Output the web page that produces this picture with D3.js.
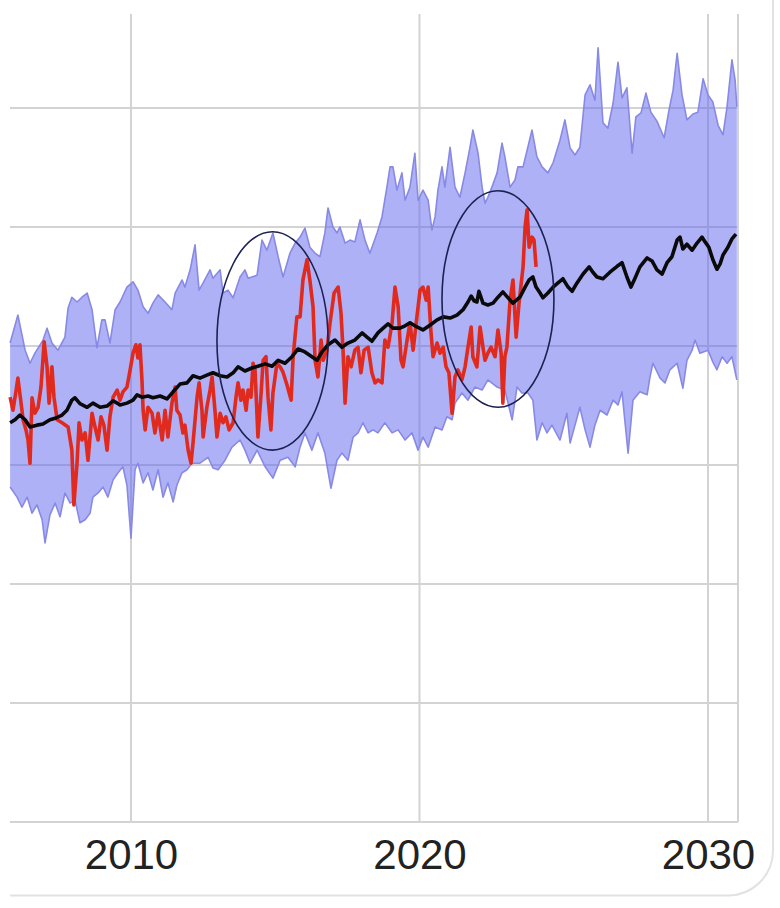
<!DOCTYPE html>
<html>
<head>
<meta charset="utf-8">
<script src="https://cdn.jsdelivr.net/npm/d3@7/dist/d3.min.js"></script>
<style>
  html, body { margin: 0; padding: 0; background: #ffffff; }
  svg { display: block; }
</style>
</head>
<body>
<svg id="chart" width="780" height="908"></svg>
<script>
// ---------- DATA (year, anomaly °C) ----------
const xTickYears = [2010, 2020, 2030];
const yGridValues = [0, 0.2, 0.4, 0.6, 0.8, 1.0, 1.2];

// model envelope – upper edge
const bandUpper = [
[2005.81,0.805],[2006.08,0.852],[2006.33,0.793],[2006.50,0.771],[2006.67,0.788],[2006.95,0.810],[2007.09,0.830],[2007.26,0.805],
[2007.47,0.793],[2007.71,0.815],[2007.82,0.864],[2007.95,0.882],[2008.13,0.874],[2008.30,0.882],[2008.48,0.889],[2008.65,0.861],
[2008.82,0.797],[2008.99,0.844],[2009.10,0.844],[2009.27,0.805],[2009.45,0.861],[2009.62,0.874],[2009.86,0.899],[2010.07,0.908],
[2010.24,0.894],[2010.42,0.866],[2010.59,0.855],[2010.76,0.872],[2010.94,0.886],[2011.18,0.874],[2011.42,0.861],[2011.53,0.889],
[2011.77,0.911],[2011.87,0.899],[2012.05,0.928],[2012.22,0.970],[2012.36,0.894],[2012.50,0.906],[2012.74,0.928],[2012.84,0.914],
[2013.09,0.928],[2013.19,0.889],[2013.36,0.894],[2013.54,0.881],[2013.78,0.916],[2013.95,0.928],[2014.06,0.914],[2014.37,0.919],
[2014.54,0.978],[2014.71,0.961],[2014.92,0.990],[2015.10,0.950],[2015.27,0.916],[2015.51,0.956],[2015.69,0.973],[2015.86,0.983],
[2016.03,0.998],[2016.20,0.966],[2016.38,0.956],[2016.55,0.950],[2016.72,0.990],[2016.83,1.032],[2017.00,1.000],[2017.14,0.990],
[2017.24,1.000],[2017.42,0.973],[2017.59,0.978],[2017.76,0.975],[2017.94,1.012],[2018.11,0.978],[2018.28,0.956],[2018.53,0.990],
[2018.70,1.017],[2018.87,1.067],[2018.98,1.101],[2019.08,1.101],[2019.22,1.062],[2019.39,1.091],[2019.50,1.045],[2019.67,1.067],
[2019.84,1.124],[2019.95,1.045],[2020.12,1.062],[2020.30,1.045],[2020.43,0.995],[2020.54,1.017],[2020.64,1.062],[2020.78,1.101],
[2020.88,1.067],[2021.06,1.134],[2021.23,1.067],[2021.40,1.050],[2021.58,1.091],[2021.75,1.134],[2021.85,1.163],[2022.03,1.124],
[2022.17,1.067],[2022.27,1.040],[2022.37,1.050],[2022.51,1.067],[2022.69,1.091],[2022.86,1.141],[2022.96,1.118],[2023.14,1.067],
[2023.31,1.079],[2023.41,1.101],[2023.59,1.101],[2023.73,1.129],[2023.90,1.163],[2024.07,1.118],[2024.25,1.101],[2024.45,1.091],
[2024.63,1.108],[2024.87,1.146],[2025.04,1.180],[2025.22,1.133],[2025.39,1.121],[2025.56,1.134],[2025.74,1.222],[2025.91,1.239],
[2026.08,1.213],[2026.19,1.301],[2026.36,1.175],[2026.53,1.166],[2026.71,1.208],[2026.88,1.277],[2027.02,1.217],[2027.19,1.234],
[2027.37,1.124],[2027.50,1.185],[2027.68,1.192],[2027.85,1.225],[2028.02,1.193],[2028.23,1.178],[2028.48,1.150],[2028.65,1.197],
[2028.79,1.230],[2028.93,1.292],[2029.10,1.222],[2029.27,1.180],[2029.48,1.190],[2029.65,1.193],[2029.83,1.249],[2030.00,1.222],
[2030.17,1.210],[2030.35,1.171],[2030.52,1.155],[2030.66,1.202],[2030.83,1.281],[2030.94,1.247],[2031.00,1.202]
];

// model envelope – lower edge
const bandLower = [
[2005.81,0.563],[2006.05,0.546],[2006.22,0.529],[2006.40,0.546],[2006.57,0.519],[2006.74,0.533],[2006.92,0.508],[2007.02,0.469],
[2007.19,0.516],[2007.37,0.536],[2007.54,0.513],[2007.71,0.553],[2007.89,0.536],[2008.06,0.541],[2008.23,0.503],[2008.41,0.508],
[2008.58,0.519],[2008.68,0.546],[2008.86,0.553],[2009.03,0.563],[2009.20,0.546],[2009.38,0.575],[2009.55,0.587],[2009.72,0.597],
[2009.86,0.566],[2010.00,0.477],[2010.14,0.592],[2010.24,0.603],[2010.42,0.570],[2010.59,0.587],[2010.76,0.558],[2010.94,0.592],
[2011.11,0.546],[2011.28,0.570],[2011.46,0.538],[2011.59,0.566],[2011.77,0.587],[2011.94,0.592],[2012.11,0.603],[2012.39,0.603],
[2012.67,0.613],[2012.84,0.595],[2013.02,0.592],[2013.26,0.608],[2013.50,0.630],[2013.78,0.642],[2013.95,0.625],[2014.13,0.603],
[2014.37,0.625],[2014.65,0.597],[2014.92,0.578],[2015.17,0.608],[2015.44,0.613],[2015.69,0.597],[2015.86,0.630],[2016.03,0.654],
[2016.27,0.625],[2016.48,0.654],[2016.72,0.620],[2016.93,0.561],[2017.14,0.608],[2017.31,0.620],[2017.52,0.608],[2017.70,0.647],
[2017.87,0.654],[2018.04,0.671],[2018.22,0.654],[2018.39,0.659],[2018.56,0.654],[2018.80,0.671],[2019.05,0.654],[2019.26,0.659],
[2019.50,0.642],[2019.74,0.654],[2019.95,0.625],[2020.12,0.647],[2020.30,0.630],[2020.54,0.664],[2020.78,0.659],[2020.95,0.681],
[2021.13,0.676],[2021.23,0.704],[2021.47,0.721],[2021.68,0.709],[2021.92,0.731],[2022.17,0.726],[2022.37,0.743],[2022.69,0.731],
[2022.96,0.726],[2023.21,0.676],[2023.38,0.731],[2023.55,0.721],[2023.76,0.721],[2023.93,0.709],[2024.07,0.642],[2024.25,0.671],
[2024.42,0.654],[2024.59,0.667],[2024.87,0.642],[2025.11,0.687],[2025.22,0.637],[2025.39,0.667],[2025.56,0.697],[2025.74,0.659],
[2025.91,0.630],[2026.08,0.667],[2026.26,0.692],[2026.50,0.684],[2026.71,0.709],[2026.88,0.701],[2027.02,0.723],[2027.23,0.620],
[2027.40,0.709],[2027.64,0.723],[2027.89,0.718],[2027.99,0.748],[2028.09,0.771],[2028.34,0.746],[2028.51,0.738],[2028.68,0.760],
[2028.93,0.771],[2029.13,0.729],[2029.27,0.776],[2029.45,0.793],[2029.55,0.810],[2029.72,0.788],[2030.00,0.793],[2030.17,0.773],
[2030.31,0.760],[2030.49,0.782],[2030.66,0.771],[2030.83,0.782],[2031.00,0.743]
];

// observed temperatures (red)
const observed = [
[2005.81,0.714],[2005.91,0.692],[2006.01,0.723],[2006.08,0.746],[2006.19,0.704],[2006.26,0.676],[2006.36,0.659],[2006.43,0.642],
[2006.50,0.603],[2006.57,0.713],[2006.67,0.687],[2006.78,0.697],[2006.88,0.731],[2006.99,0.807],[2007.09,0.765],[2007.16,0.704],
[2007.26,0.765],[2007.33,0.714],[2007.44,0.676],[2007.61,0.671],[2007.82,0.664],[2007.95,0.625],[2008.02,0.533],[2008.13,0.603],
[2008.20,0.671],[2008.30,0.642],[2008.41,0.654],[2008.51,0.608],[2008.65,0.687],[2008.72,0.671],[2008.86,0.642],[2008.96,0.681],
[2009.06,0.667],[2009.17,0.625],[2009.27,0.681],[2009.38,0.714],[2009.52,0.726],[2009.62,0.709],[2009.72,0.723],[2009.86,0.731],
[2009.97,0.760],[2010.07,0.788],[2010.17,0.802],[2010.24,0.780],[2010.31,0.802],[2010.38,0.743],[2010.42,0.692],[2010.49,0.659],
[2010.59,0.697],[2010.73,0.687],[2010.83,0.654],[2010.94,0.687],[2011.08,0.642],[2011.18,0.692],[2011.28,0.647],[2011.42,0.704],
[2011.53,0.731],[2011.59,0.692],[2011.70,0.684],[2011.80,0.654],[2011.87,0.667],[2011.98,0.625],[2012.08,0.603],[2012.15,0.637],
[2012.29,0.714],[2012.36,0.738],[2012.46,0.692],[2012.50,0.647],[2012.63,0.697],[2012.74,0.726],[2012.81,0.748],[2012.91,0.692],
[2012.98,0.647],[2013.09,0.687],[2013.19,0.671],[2013.29,0.681],[2013.40,0.659],[2013.54,0.671],[2013.64,0.714],[2013.71,0.738],
[2013.81,0.709],[2013.88,0.726],[2013.99,0.692],[2014.06,0.726],[2014.16,0.714],[2014.23,0.771],[2014.30,0.760],[2014.40,0.647],
[2014.51,0.721],[2014.58,0.776],[2014.68,0.782],[2014.75,0.714],[2014.85,0.659],[2014.92,0.721],[2015.06,0.771],[2015.17,0.765],
[2015.27,0.756],[2015.41,0.734],[2015.55,0.709],[2015.62,0.782],[2015.75,0.849],[2015.86,0.849],[2015.96,0.911],[2016.10,0.945],
[2016.20,0.911],[2016.31,0.866],[2016.38,0.776],[2016.48,0.748],[2016.59,0.810],[2016.66,0.776],[2016.79,0.793],[2016.90,0.839],
[2017.04,0.889],[2017.18,0.899],[2017.28,0.855],[2017.35,0.793],[2017.42,0.704],[2017.52,0.782],[2017.63,0.765],[2017.76,0.793],
[2017.87,0.798],[2017.97,0.755],[2018.08,0.793],[2018.22,0.798],[2018.35,0.755],[2018.46,0.738],[2018.56,0.743],[2018.70,0.738],
[2018.80,0.810],[2018.91,0.798],[2019.05,0.839],[2019.15,0.899],[2019.26,0.866],[2019.36,0.776],[2019.43,0.765],[2019.57,0.810],
[2019.67,0.839],[2019.78,0.793],[2019.91,0.849],[2020.02,0.894],[2020.12,0.899],[2020.23,0.877],[2020.30,0.899],[2020.40,0.822],
[2020.47,0.782],[2020.61,0.805],[2020.71,0.788],[2020.82,0.798],[2020.92,0.765],[2021.02,0.755],[2021.13,0.687],[2021.23,0.748],
[2021.33,0.760],[2021.47,0.743],[2021.58,0.765],[2021.68,0.798],[2021.79,0.832],[2021.85,0.782],[2021.99,0.765],[2022.10,0.832],
[2022.20,0.798],[2022.27,0.776],[2022.37,0.788],[2022.48,0.798],[2022.62,0.782],[2022.72,0.827],[2022.83,0.788],[2022.89,0.704],
[2022.96,0.782],[2023.03,0.798],[2023.14,0.877],[2023.24,0.911],[2023.35,0.815],[2023.45,0.872],[2023.59,0.933],[2023.66,1.000],
[2023.73,1.029],[2023.80,0.966],[2023.90,0.983],[2023.97,0.978],[2024.04,0.933]
];

// multi-model mean (black)
const modelMean = [
[2005.81,0.671],[2005.98,0.676],[2006.15,0.684],[2006.33,0.676],[2006.50,0.664],[2006.74,0.667],[2006.95,0.669],[2007.19,0.676],
[2007.40,0.679],[2007.61,0.684],[2007.78,0.692],[2007.95,0.709],[2008.06,0.713],[2008.23,0.703],[2008.48,0.697],[2008.68,0.704],
[2008.93,0.697],[2009.17,0.699],[2009.38,0.708],[2009.62,0.701],[2009.86,0.704],[2010.07,0.709],[2010.21,0.718],[2010.38,0.714],
[2010.59,0.716],[2010.76,0.713],[2011.01,0.716],[2011.25,0.711],[2011.46,0.723],[2011.70,0.736],[2011.94,0.738],[2012.15,0.750],
[2012.39,0.746],[2012.63,0.751],[2012.84,0.755],[2013.09,0.750],[2013.33,0.748],[2013.54,0.755],[2013.71,0.765],[2013.95,0.758],
[2014.19,0.763],[2014.40,0.766],[2014.65,0.770],[2014.89,0.766],[2015.10,0.776],[2015.34,0.771],[2015.58,0.782],[2015.79,0.795],
[2016.03,0.790],[2016.27,0.782],[2016.45,0.776],[2016.62,0.790],[2016.83,0.802],[2017.07,0.810],[2017.31,0.798],[2017.52,0.805],
[2017.76,0.810],[2018.01,0.822],[2018.18,0.815],[2018.35,0.808],[2018.56,0.822],[2018.74,0.830],[2018.91,0.837],[2019.08,0.830],
[2019.32,0.830],[2019.50,0.834],[2019.67,0.839],[2019.91,0.832],[2020.12,0.827],[2020.36,0.835],[2020.61,0.844],[2020.82,0.849],
[2021.06,0.847],[2021.30,0.852],[2021.51,0.861],[2021.68,0.874],[2021.79,0.884],[2021.89,0.876],[2021.99,0.874],[2022.06,0.892],
[2022.20,0.872],[2022.37,0.869],[2022.55,0.872],[2022.72,0.882],[2022.89,0.891],[2023.07,0.881],[2023.24,0.872],[2023.48,0.882],
[2023.66,0.899],[2023.80,0.911],[2023.93,0.916],[2024.04,0.899],[2024.18,0.889],[2024.28,0.881],[2024.45,0.889],[2024.63,0.899],
[2024.80,0.906],[2024.97,0.913],[2025.15,0.899],[2025.29,0.892],[2025.46,0.906],[2025.67,0.921],[2025.88,0.933],[2026.01,0.924],
[2026.15,0.916],[2026.36,0.913],[2026.60,0.924],[2026.85,0.934],[2027.02,0.940],[2027.19,0.916],[2027.33,0.899],[2027.47,0.914],
[2027.64,0.933],[2027.89,0.948],[2028.06,0.943],[2028.23,0.928],[2028.41,0.921],[2028.58,0.940],[2028.75,0.950],[2028.93,0.978],
[2029.03,0.983],[2029.13,0.963],[2029.27,0.971],[2029.45,0.961],[2029.62,0.973],[2029.79,0.983],[2029.90,0.975],[2030.03,0.966],
[2030.17,0.945],[2030.31,0.929],[2030.42,0.938],[2030.52,0.953],[2030.69,0.966],[2030.83,0.980],[2030.97,0.988]
];

// highlighted periods: [startYear, endYear, lowValue, highValue]
const highlights = [
  [2012.98, 2016.83, 0.625, 0.992],
  [2020.78, 2024.66, 0.697, 1.061]
];

// ---------- CHART ----------
const svg = d3.select("#chart");

const x = d3.scaleLinear().domain([2005.806, 2031.04]).range([10, 738]);
const y = d3.scaleLinear().domain([0, 1.358]).range([822, 14]);

const gridColor = "#d3d3d3";

// card border
svg.append("path")
  .attr("d", "M10,895.5 H728 A45,45 0 0 0 773,850.5 V0")
  .attr("fill", "none")
  .attr("stroke", "#e2e2e2")
  .attr("stroke-width", 2);

// horizontal gridlines
svg.append("g")
  .selectAll("line")
  .data(yGridValues)
  .join("line")
  .attr("x1", x.range()[0]).attr("x2", x.range()[1])
  .attr("y1", d => y(d)).attr("y2", d => y(d))
  .attr("stroke", gridColor)
  .attr("stroke-width", 2);

// vertical gridlines (ticks + right frame)
const vLines = xTickYears.concat([x.domain()[1]]);
svg.append("g")
  .selectAll("line")
  .data(vLines)
  .join("line")
  .attr("x1", d => x(d)).attr("x2", d => x(d))
  .attr("y1", y.range()[1]).attr("y2", y(0))
  .attr("stroke", gridColor)
  .attr("stroke-width", 2);

// x axis labels via d3.axisBottom
const axis = d3.axisBottom(x)
  .tickValues(xTickYears)
  .tickFormat(d3.format("d"))
  .tickSize(0)
  .tickPadding(0);
const gAxis = svg.append("g")
  .attr("transform", `translate(0,${y(0)})`)
  .call(axis);
gAxis.select(".domain").remove();
gAxis.selectAll("text")
  .attr("y", 47)
  .attr("dy", 0)
  .attr("font-family", "'Liberation Sans', Arial, Helvetica, sans-serif")
  .attr("font-size", 42)
  .attr("fill", "#222");

// envelope band
const line = d3.line().x(d => x(d[0])).y(d => y(d[1]));
const bandPoly = bandUpper.concat(bandLower.slice().reverse());
svg.append("path")
  .attr("d", line(bandPoly) + "Z")
  .attr("fill", "rgb(95,100,240)")
  .attr("fill-opacity", 0.5)
  .attr("stroke", "none");

[bandUpper, bandLower].forEach(edge => {
  svg.append("path")
    .attr("d", line(edge))
    .attr("fill", "none")
    .attr("stroke", "rgb(135,137,228)")
    .attr("stroke-width", 1.6)
    .attr("stroke-linejoin", "round");
});

// observed (red)
svg.append("path")
  .attr("d", line(observed))
  .attr("fill", "none")
  .attr("stroke", "#e02a1e")
  .attr("stroke-width", 3.6)
  .attr("stroke-linejoin", "round");

// model mean (black)
svg.append("path")
  .attr("d", line(modelMean))
  .attr("fill", "none")
  .attr("stroke", "#0a0a0a")
  .attr("stroke-width", 3.6)
  .attr("stroke-linejoin", "round");

// highlight ellipses
svg.append("g")
  .selectAll("ellipse")
  .data(highlights)
  .join("ellipse")
  .attr("cx", d => (x(d[0]) + x(d[1])) / 2)
  .attr("cy", d => (y(d[2]) + y(d[3])) / 2)
  .attr("rx", d => (x(d[1]) - x(d[0])) / 2)
  .attr("ry", d => (y(d[2]) - y(d[3])) / 2)
  .attr("fill", "none")
  .attr("stroke", "#1b2150")
  .attr("stroke-width", 1.6);
</script>
</body>
</html>
